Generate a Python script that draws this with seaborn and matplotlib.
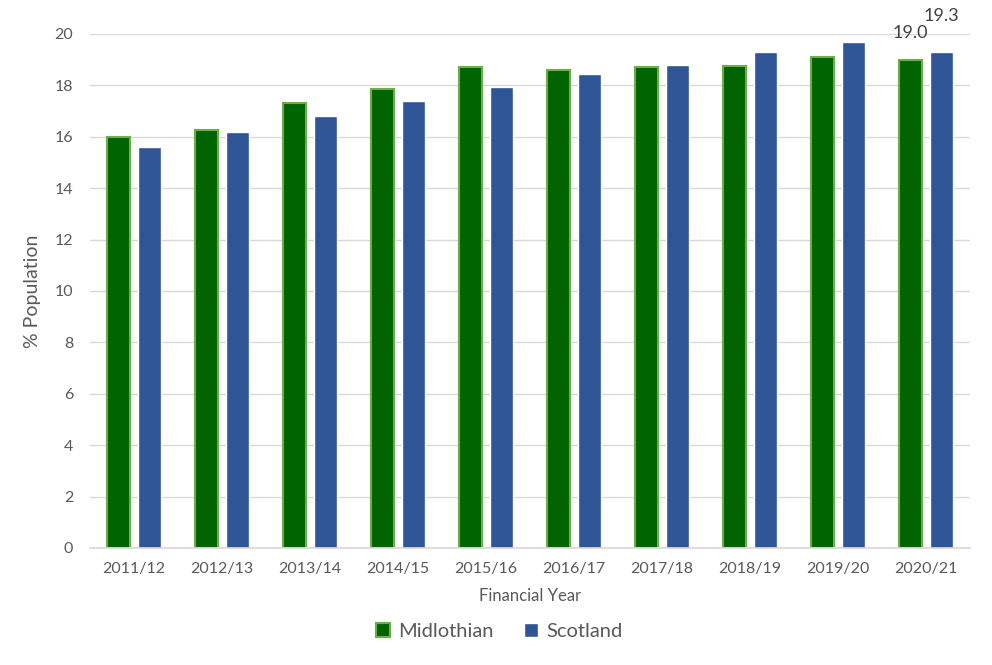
import matplotlib
matplotlib.use("Agg")
import matplotlib.pyplot as plt
import pandas as pd
import seaborn as sns

# Data
years = ["2011/12", "2012/13", "2013/14", "2014/15", "2015/16",
         "2016/17", "2017/18", "2018/19", "2019/20", "2020/21"]
midlothian = [16.0, 16.25, 17.3, 17.85, 18.7, 18.6, 18.7, 18.75, 19.1, 19.0]
scotland = [15.6, 16.2, 16.8, 17.4, 17.95, 18.45, 18.8, 19.3, 19.7, 19.3]

df = pd.DataFrame({
    "year": years * 2,
    "value": midlothian + scotland,
    "area": ["Midlothian"] * len(years) + ["Scotland"] * len(years),
})

sns.set_theme(style="white")
plt.rcParams['font.family'] = ['Lato', 'DejaVu Sans']
text_col = "#595959"

fig = plt.figure(figsize=(9.92, 6.65), dpi=100)
ax = fig.add_axes([0.0907, 0.176, 0.887, 0.773])

sns.barplot(data=df, x="year", y="value", hue="area", order=years,
            hue_order=["Midlothian", "Scotland"],
            palette={"Midlothian": "#006400", "Scotland": "#2F5597"},
            saturation=1, width=0.7, gap=0.26, errorbar=None, ax=ax)

# light green outline on the Midlothian bars
for bar in ax.containers[0]:
    bar.set_edgecolor("#70AD47")
    bar.set_linewidth(1.5)

ax.set_ylim(0, 20)
ax.set_yticks(range(0, 21, 2))
ax.set_xlim(-0.5, len(years) - 0.5)
ax.yaxis.grid(True, color="#D9D9D9", linewidth=1)
ax.set_axisbelow(True)
for s in ["top", "right", "left"]:
    ax.spines[s].set_visible(False)
ax.spines["bottom"].set_color("#D9D9D9")
ax.tick_params(axis="both", colors=text_col, labelsize=11.5, length=0)
ax.tick_params(axis="x", pad=10)
ax.tick_params(axis="y", pad=12)

ax.set_xlabel("Financial Year", fontsize=12, color=text_col, labelpad=9)
ax.set_ylabel("% Population", fontsize=14, color=text_col, labelpad=10)

# value labels on last year
last = len(years) - 1
ax.annotate(f"{midlothian[-1]:.1f}", xy=(ax.containers[0][last].get_x() + ax.containers[0][last].get_width() / 2, midlothian[-1]),
            xytext=(0, 19), textcoords="offset points", ha="center", va="center",
            fontsize=13, color="#404040")
ax.annotate(f"{scotland[-1]:.1f}", xy=(ax.containers[1][last].get_x() + ax.containers[1][last].get_width() / 2, scotland[-1]),
            xytext=(0, 26), textcoords="offset points", ha="center", va="center",
            fontsize=13, color="#404040", annotation_clip=False)

leg = ax.legend(loc="center", bbox_to_anchor=(0.465, -0.163), ncol=2, frameon=False,
                fontsize=14.5, handlelength=0.7, handleheight=0.7, handletextpad=0.4,
                columnspacing=1.5)
for t in leg.get_texts():
    t.set_color(text_col)
leg.legend_handles[0].set_edgecolor("#70AD47")
leg.legend_handles[0].set_linewidth(1.5)

fig.savefig("out.png", dpi=100)
